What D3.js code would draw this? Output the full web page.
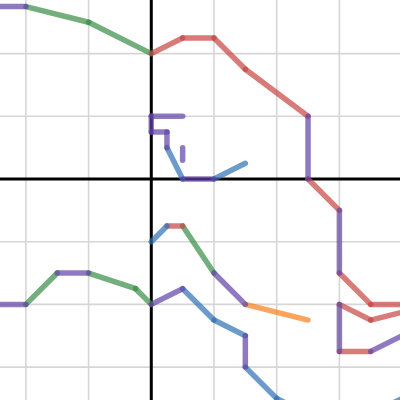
<!DOCTYPE html>
<html>
<head>
<meta charset="utf-8">
<script src="https://cdn.jsdelivr.net/npm/d3@7"></script>
<style>
  html, body { margin: 0; padding: 0; background: #fff; }
  svg { display: block; }
</style>
</head>
<body>
<div id="chart"></div>
<script>
// visible window, in graph units
let xDomain = [-2.413, 3.967];
let yDomain = [-3.525, 2.855];

// grid lines (integer units), axes at 0
let gridX = [-2, -1, 1, 2, 3];
let gridY = [-3, -2, -1, 1, 2];

// polylines per colour, points as [x, y]
let redPaths = [
  [[0, 2], [0.5, 2.25], [1, 2.25], [1.5, 1.75], [2.5, 1]],
  [[2.5, 0], [3, -0.5]],
  [[3, -1.5], [3.5, -2], [4.2, -2]],
  [[3, -2], [3.5, -2.25], [4.5, -2]],
  [[3, -2.75], [3.5, -2.75]],
  [[0.25, -0.75], [0.5, -0.75]]
];
let greenPaths = [
  [[-2, 2.75], [-1, 2.5], [0, 2]],
  [[0.5, -0.75], [1, -1.5]],
  [[-2, -2], [-1.5, -1.5]],
  [[-1, -1.5], [-0.25, -1.75], [0, -2]]
];
let purplePaths = [
  [[-2.6, 2.75], [-2, 2.75]],
  [[2.5, 1], [2.5, 0]],
  [[3, -0.5], [3, -1.5]],
  [[3, -2], [3, -2.75]],
  [[3.5, -2.75], [4, -2.5]],
  [[0.5, 1], [0, 1], [0, 0.75], [0.25, 0.75], [0.25, 0.5]],
  [[0.5, 0.5], [0.5, 0.3]],
  [[0.5, 0], [1, 0]],
  [[1, -1.5], [1.5, -2]],
  [[-2.6, -2], [-2, -2]],
  [[-1.5, -1.5], [-1, -1.5]],
  [[0, -2], [0.5, -1.75]],
  [[1.5, -2.5], [1.5, -3]]
];
let bluePaths = [
  [[0.25, 0.5], [0.5, 0]],
  [[1, 0], [1.5, 0.25]],
  [[0, -1], [0.25, -0.75]],
  [[0.5, -1.75], [1, -2.25], [1.5, -2.5]],
  [[1.5, -3], [2, -3.5], [2.5, -3.75], [3.5, -3.75], [4.2, -3.4]]
];
let orangePaths = [
  [[1.5, -2], [2.5, -2.25]]
];

let series = [
  {color: "#388c46", paths: greenPaths},
  {color: "#c74440", paths: redPaths},
  {color: "#fa7e19", paths: orangePaths},
  {color: "#2d70b3", paths: bluePaths},
  {color: "#6042a6", paths: purplePaths}
];

let width = 400, height = 400;

let svg = d3.select("#chart")
            .append("svg")
            .attr("width", width)
            .attr("height", height);

let x = d3.scaleLinear().domain(xDomain).range([0, width]);
let y = d3.scaleLinear().domain(yDomain).range([height, 0]);

// grid
svg.append("g")
   .selectAll("line")
   .data(gridX)
   .enter().append("line")
   .attr("x1", d => x(d)).attr("x2", d => x(d))
   .attr("y1", 0).attr("y2", height)
   .attr("stroke", "#d6d6d6")
   .attr("stroke-width", 1.6);

svg.append("g")
   .selectAll("line")
   .data(gridY)
   .enter().append("line")
   .attr("y1", d => y(d)).attr("y2", d => y(d))
   .attr("x1", 0).attr("x2", width)
   .attr("stroke", "#d6d6d6")
   .attr("stroke-width", 1.6);

// axes
svg.append("line")
   .attr("x1", x(0)).attr("x2", x(0))
   .attr("y1", 0).attr("y2", height)
   .attr("stroke", "#000").attr("stroke-width", 3);
svg.append("line")
   .attr("y1", y(0)).attr("y2", y(0))
   .attr("x1", 0).attr("x2", width)
   .attr("stroke", "#000").attr("stroke-width", 3);

// segments, one line each so the joints darken like the original
series.forEach(s => {
  let segs = [];
  s.paths.forEach(p => {
    for (let i = 0; i < p.length - 1; i++) segs.push([p[i], p[i + 1]]);
  });
  svg.append("g")
     .selectAll("line")
     .data(segs)
     .enter().append("line")
     .attr("x1", d => x(d[0][0])).attr("y1", d => y(d[0][1]))
     .attr("x2", d => x(d[1][0])).attr("y2", d => y(d[1][1]))
     .attr("stroke", s.color)
     .attr("stroke-width", 5.5)
     .attr("stroke-linecap", "round")
     .attr("stroke-opacity", 0.7);
});
</script>
</body>
</html>
